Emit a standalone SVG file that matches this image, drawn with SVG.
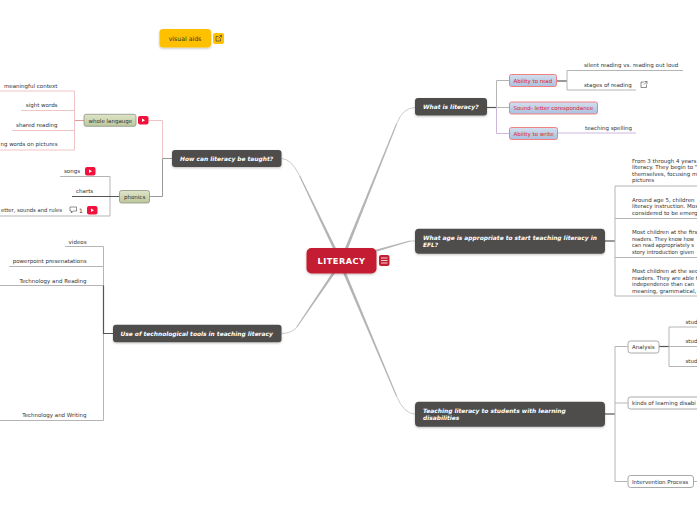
<svg xmlns="http://www.w3.org/2000/svg" width="697" height="520" viewBox="0 0 697 520">
<defs>
<linearGradient id="g" x1="0" y1="0" x2="0" y2="1"><stop offset="0" stop-color="#dfe5c8"/><stop offset="1" stop-color="#bcc79c"/></linearGradient>
<linearGradient id="b" x1="0" y1="0" x2="0" y2="1"><stop offset="0" stop-color="#d3dfee"/><stop offset="1" stop-color="#a9c0de"/></linearGradient>
<filter id="s" x="-10%" y="-20%" width="120%" height="150%"><feDropShadow dx="0" dy="1" stdDeviation="1" flood-color="#000" flood-opacity=".25"/></filter>
<g id="yt"><rect width="10.5" height="8.500" rx="2" fill="#f0123c"/><path d="M4 2.400 7 4.250 4 6.100z" fill="#fff"/></g>
</defs>
<style>
text{font-family:"DejaVu Sans","Liberation Sans",sans-serif;font-size:5.5px;fill:#333;text-rendering:geometricPrecision}
.m{font-size:5.9px;font-weight:700;font-style:italic;fill:#fff}
.r{text-anchor:end}
.c{fill:none;stroke:#b5b5b5;stroke-width:1}
.p{fill:none;stroke:#f0c4c4;stroke-width:1}
.d{fill:none;stroke:#555;stroke-width:1.2}
.w{fill:#fff;stroke:#aaa;stroke-width:1}
.gn{fill:url(#g);stroke:#8e9484;stroke-width:.8}
.bn{fill:url(#b);stroke:#f08080;stroke-width:1}
.rt{fill:#e0202f;font-size:5.5px}
.mn{fill:#4f4e4c;filter:url(#s)}
.t{fill:#b4b4b4}
.l{fill:none;stroke:#c4c4c4;stroke-width:.9}
</style>
<g id="connectors">
<path class="t" d="M342.400 262.600 397 124.200 396 123.800 339.600 261.400z"/>
<path class="l" d="M396.500 124Q403 107.500 415 107.500"/>
<path class="t" d="M340 259 376.500 249.500 410 240.500 410.300 241.500 377 251.500 341 263z"/>
<path class="l" d="M410 241H415"/>
<path class="t" d="M341.400 261.400 397 395.800 396 396.200 338.600 262.600z"/>
<path class="l" d="M396.500 396Q404 414 415 414"/>
<path class="t" d="M342.400 261.400 300 175.300 299 175.700 339.600 262.600z"/>
<path class="l" d="M299.500 175.500Q291 158.500 281.500 158.500"/>
<path class="t" d="M342.200 262.800 296.900 327.800 296.100 327.200 339.800 261.200z"/>
<path class="l" d="M296.500 327.500Q291 333.500 281.500 333.500"/>
<path class="d" d="M487 107.500H496.500"/>
<path class="c" d="M509 80.500H496.500V107.500H509"/>
<path fill="none" stroke="#cdb8dc" d="M496.500 107.500V133.500H509M558 133H636"/>
<path class="d" d="M557 81H567"/>
<path class="c" d="M683 70.500H567V90H636"/>
<path class="d" d="M605 241H615"/>
<path class="c" d="M697 186H615V296H697M615 218.500H697M615 257.500H697"/>
<path class="d" d="M605 414H615"/>
<path class="c" d="M627.500 346.500H615V481.500H627.500M615 403H627.500M693.500 481.500H697"/>
<path class="d" d="M659 346.500H669"/>
<path class="c" d="M697 327H669V366.500H697M669 346.500H697"/>
<path class="c" d="M65 246.500H103.500V420.500H0M9 266.500H103.500M0 285.500H103.500"/>
<path class="d" d="M113 333.500H103.500V285.500"/>
<path class="p" d="M148.500 120.500H162.500V158.500"/>
<path fill="none" stroke="#999" d="M172 158.500H162.500V196.500H149.500"/>
<path stroke="#e09a9a" fill="none" d="M84 120.500H74.500"/>
<path class="p" d="M0 91H74.500V150H0M21 110.500H74.500M12 130.500H74.500"/>
<path class="c" stroke="#ccc" d="M60 176.500H110V216H0"/>
<path stroke="#555" fill="none" d="M119.500 196.500H72"/>
</g>
<g id="central"><rect x="306.500" y="248" width="70" height="25.500" rx="5" fill="#c41e33" filter="url(#s)"/><text x="341.500" y="263.700" text-anchor="middle" style="font-size:8.200px;font-weight:700;fill:#fff;letter-spacing:.5px">LITERACY</text>
<rect x="379" y="255" width="10.500" height="11" rx="2" fill="#c41e33"/><path d="M381 258H387.500M381 260.500H387.500M381 263H387.500" stroke="#fff" stroke-width=".8"/></g>
<g id="visual-aids"><rect x="159.500" y="29" width="51.500" height="18.500" rx="3.500" fill="#ffc000" filter="url(#s)"/><text x="185" y="40.800" text-anchor="middle" style="font-size:6.200px">visual aids</text>
<rect x="213" y="33" width="11" height="11" rx="2" fill="#ffc000"/><path d="M220.500 38.500V41H216V36.500H218.500M219.500 35.500H221.500V37.500M221.500 35.500 218.500 38.500" fill="none" stroke="#444" stroke-width=".7"/></g>
<g id="what-is"><rect class="mn" x="415" y="98" width="72" height="17.500" rx="3"/><text class="m" x="423" y="108.800">What is literacy?</text></g>
<g id="ability-read"><rect class="bn" x="509.500" y="74.500" width="47" height="12" rx="2"/><text class="rt" x="513.500" y="82.800">Ability to read</text></g>
<g id="sound"><rect class="bn" x="509.500" y="102" width="88" height="12" rx="2"/><text class="rt" x="513.500" y="110">Sound- letter corespondance</text></g>
<g id="ability-write"><rect class="bn" x="509.500" y="127.500" width="48" height="12" rx="2"/><text class="rt" x="513.500" y="135.800">Ability to write</text></g>
<g id="silent"><text x="584" y="67">silent reading vs. reading out loud</text></g>
<g id="stages"><text x="584" y="87">stages of reading</text><path d="M644 82H641V87.500H646.500V84.500M644.500 81.500H647V84M647 81.500 644 84.500" fill="none" stroke="#444" stroke-width=".6"/></g>
<g id="spelling"><text x="585" y="130">teaching spelling</text></g>
<g id="what-age"><rect class="mn" x="415" y="228.700" width="190" height="25" rx="4"/><text class="m" x="423" y="239.800">What age is appropriate to start teaching literacy in</text><text class="m" x="423" y="247">EFL?</text></g>
<g id="age-1"><text x="632" y="163">From 3 through 4 years</text><text x="632" y="169">literacy. They begin to "</text><text x="632" y="176">themselves, focusing m</text><text x="632" y="182">pictures</text></g>
<g id="age-2"><text x="632" y="202">Around age 5, children</text><text x="632" y="208">literacy instruction. Mos</text><text x="632" y="215">considered to be emerg</text></g>
<g id="age-3"><text x="632" y="234">Most children at the firs</text><text x="632" y="241" textLength="62" lengthAdjust="spacingAndGlyphs">readers. They know how</text><text x="632" y="247" textLength="62" lengthAdjust="spacingAndGlyphs">can read appropriately s</text><text x="632" y="254" textLength="62" lengthAdjust="spacingAndGlyphs">story introduction given</text></g>
<g id="age-4"><text x="632" y="273">Most children at the sec</text><text x="632" y="280">readers. They are able t</text><text x="632" y="286" textLength="62" lengthAdjust="spacingAndGlyphs">independence than can</text><text x="632" y="293">meaning, grammatical,</text></g>
<g id="teaching"><rect class="mn" x="415" y="401.700" width="190" height="25" rx="4"/><text class="m" x="423" y="412.800">Teaching literacy to students with learning</text><text class="m" x="423" y="420">disabilities</text></g>
<g id="analysis"><rect class="w" x="628" y="341" width="31" height="12" rx="2.500"/><text x="632" y="349.200">Analysis</text></g>
<g id="stud-1"><text x="685.500" y="324">stud</text></g>
<g id="stud-2"><text x="685.500" y="343">stud</text></g>
<g id="stud-3"><text x="685.500" y="363">stud</text></g>
<g id="kinds"><rect class="w" x="628" y="397" width="75" height="12" rx="2.500"/><text x="632" y="405">kinds of learning disabi</text></g>
<g id="intervention"><rect class="w" x="628" y="475.500" width="65.500" height="12" rx="2.500"/><text x="632" y="483.800">Intervention Process</text></g>
<g id="how"><rect class="mn" x="172" y="150" width="109.500" height="17" rx="3"/><text class="m" x="180" y="160.700">How can literacy be taught?</text></g>
<g id="whole"><rect class="gn" x="84" y="114.300" width="52" height="12" rx="2"/><text x="88.500" y="122.700">whole langauge</text><use href="#yt" x="138" y="116"/></g>
<g id="phonics"><rect class="gn" x="119.500" y="190.500" width="30" height="12.500" rx="2"/><text x="124" y="199">phonics</text></g>
<g id="mc"><text class="r" x="57.500" y="88">meaningful context</text></g>
<g id="sw"><text class="r" x="57.500" y="107">sight words</text></g>
<g id="sr"><text class="r" x="57.500" y="127">shared reading</text></g>
<g id="wp"><text class="r" x="57.500" y="146" textLength="57" lengthAdjust="spacingAndGlyphs">ng words on pictures</text></g>
<g id="songs"><text x="64" y="173">songs</text><use href="#yt" x="85" y="167"/></g>
<g id="charts"><text x="76" y="193">charts</text></g>
<g id="letter"><text class="r" x="62" y="212" textLength="61" lengthAdjust="spacingAndGlyphs">etter, sounds and rules</text><path d="M70 207H76.500V211H73L71.500 213V211H70z" fill="none" stroke="#444" stroke-width=".6"/><text x="79" y="212.500" style="font-size:6px">1</text><use href="#yt" x="87" y="206"/></g>
<g id="use"><rect class="mn" x="113" y="324.700" width="168.500" height="17.500" rx="3"/><text class="m" x="120.500" y="335.500">Use of technological tools in teaching literacy</text></g>
<g id="videos"><text class="r" x="86.500" y="243.500">videos</text></g>
<g id="ppt"><text class="r" x="86.500" y="262.500">powerpoint presenatations</text></g>
<g id="tr"><text class="r" x="86.500" y="282.500">Technology and Reading</text></g>
<g id="tw"><text class="r" x="86.500" y="417">Technology and Writing</text></g>
</svg>
